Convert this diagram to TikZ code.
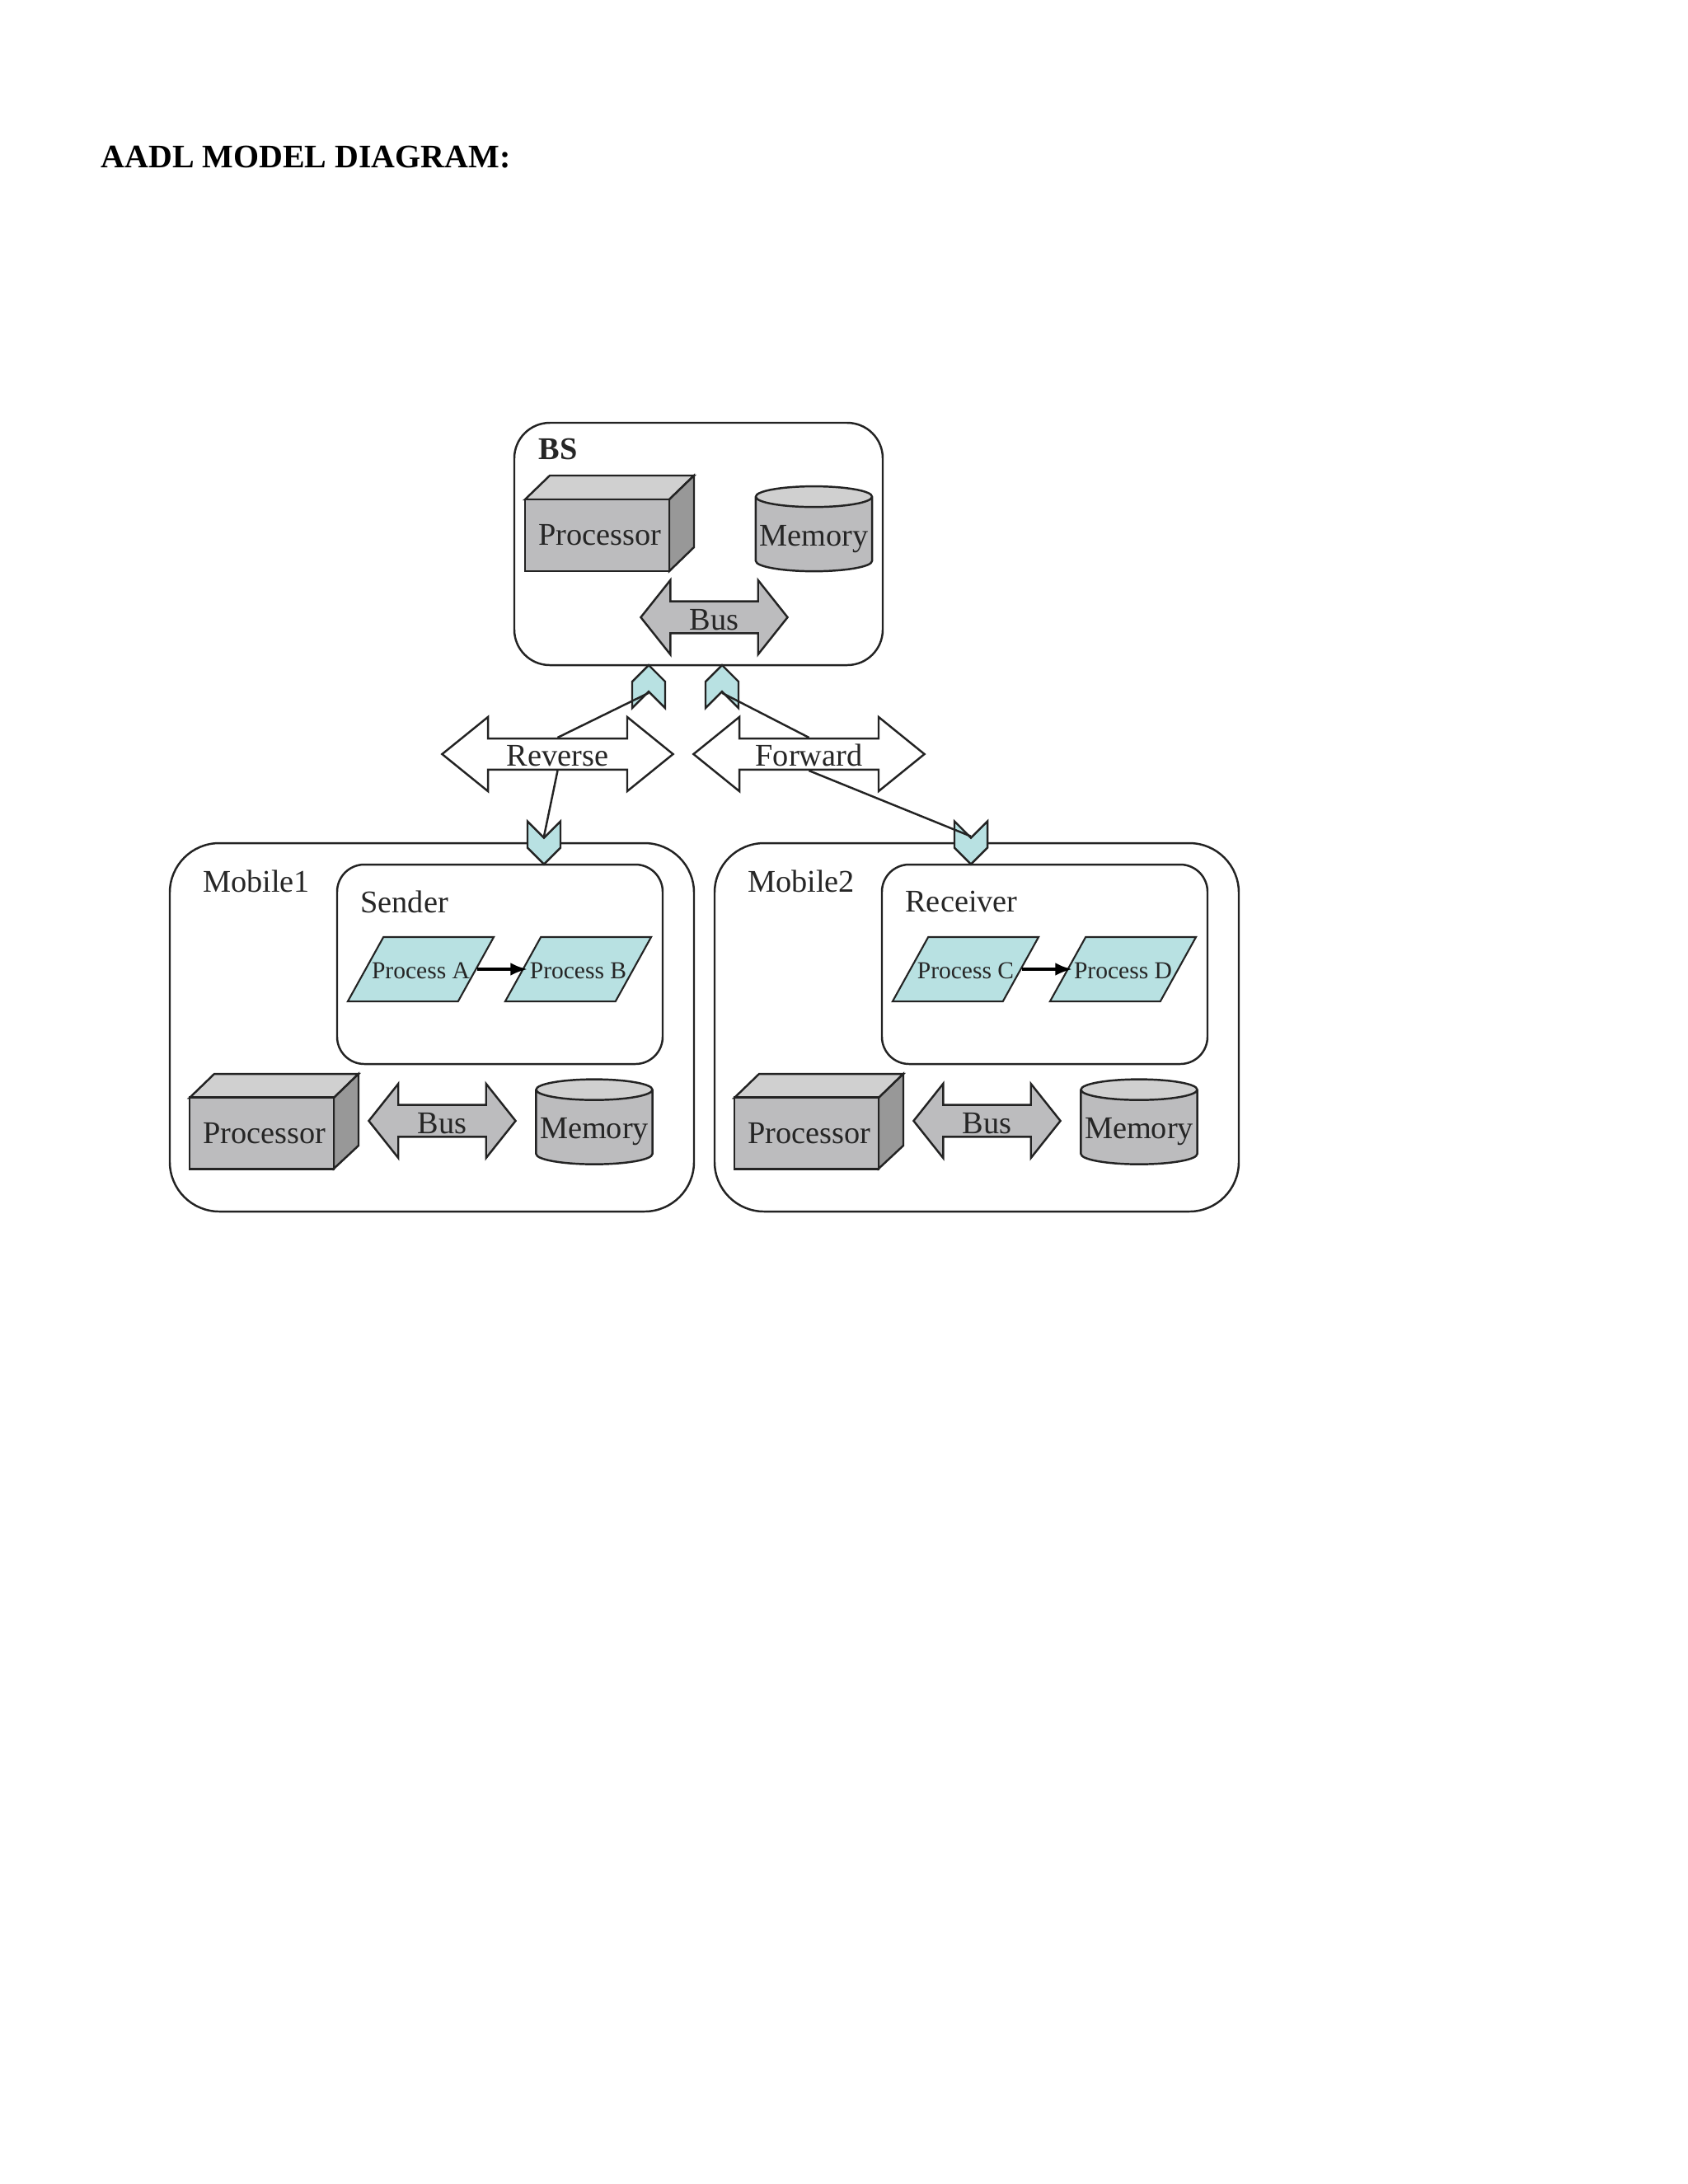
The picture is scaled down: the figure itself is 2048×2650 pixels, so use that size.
\documentclass[tikz,border=0pt]{standalone}
\usepackage{fontspec}
\setmainfont{Liberation Serif}
\usetikzlibrary{arrows.meta,positioning,calc,shapes.geometric,shapes.arrows,shapes.symbols}
\definecolor{boxline}{RGB}{35,35,35}
\definecolor{hwface}{RGB}{188,188,190}
\definecolor{hwtop}{RGB}{208,208,208}
\definecolor{hwside}{RGB}{152,152,152}
\definecolor{swfill}{RGB}{184,225,226}
\tikzset{
  every node/.style={font=\fontsize{10.9}{12}\selectfont,text=black!85},
  outerbox/.style={draw=boxline,line width=0.7pt,rounded corners=0.6cm,fill=white},
  innerbox/.style={draw=boxline,line width=0.7pt,rounded corners=0.33cm,fill=white},
  cpuface/.style={draw=boxline,line width=0.7pt,fill=hwface,minimum width=1.75cm,minimum height=0.87cm,inner sep=0pt},
  cputop/.style={draw=boxline,line width=0.7pt,fill=hwtop},
  cpuside/.style={draw=boxline,line width=0.7pt,fill=hwside},
  membox/.style={cylinder,shape border rotate=90,draw=boxline,line width=0.7pt,cylinder uses custom fill,
    cylinder body fill=hwface,cylinder end fill=hwtop,minimum width=1.41cm,minimum height=1.03cm,aspect=0.19,inner sep=0pt,
    text height=7.8pt,text depth=0pt},
  busarrow/.style={double arrow,draw=boxline,line width=0.7pt,fill=hwface,minimum width=0.9cm,minimum height=1.78cm,
    double arrow head extend=0.225cm,double arrow tip angle=103,inner sep=0pt,text height=9pt,text depth=0pt},
  linkarrow/.style={double arrow,draw=boxline,line width=0.7pt,fill=white,minimum width=0.9cm,minimum height=2.8cm,
    double arrow head extend=0.225cm,double arrow tip angle=78,inner sep=0pt,text height=8.5pt,text depth=0pt},
  procbox/.style={trapezium,trapezium left angle=61,trapezium right angle=119,trapezium stretches body=true,draw=boxline,
    line width=0.6pt,fill=swfill,minimum width=1.77cm,text height=6.8pt,text depth=0pt,inner xsep=0pt,inner ysep=7.7pt,
    font=\fontsize{8.4}{10}\selectfont},
  portbox/.style={signal,signal pointer angle=90,draw=boxline,line width=0.7pt,fill=swfill,minimum width=0.4cm,minimum height=0.12cm,inner sep=0pt},
  linkline/.style={draw=boxline,line width=0.7pt},
}

\begin{document}
\begin{tikzpicture}[x=0.01cm,y=-0.01cm]
  \useasboundingbox[fill=white] (0,0) rectangle (2048,2650);
  \node[anchor=west,inner sep=0pt,font=\fontsize{11.35}{13}\selectfont\bfseries,text=black] (title) at (122,191) {AADL MODEL DIAGRAM:};

  % base station
  \draw[outerbox,rounded corners=0.43cm] (624,513) rectangle (1071,807);
  \node[font=\fontsize{10.9}{12}\selectfont\bfseries] (bslabel) at (677,545) {BS};
  \draw[cputop] (637,606) -- ++(30,-29) -- ++(175,0) -- (812,606) -- cycle;
  \draw[cpuside] (812,606) -- ++(30,-29) -- ++(0,87) -- (812,693) -- cycle;
  \node[cpuface] (bsproc) at (724.5,649.5) {\hspace*{2pt}Processor};
  \node[membox] (bsmem) at (987.5,648.5) {Memory};
  \node[busarrow] (bsbus) at (866.5,749) {Bus};

  % the two mobiles
  \foreach \i/\dx/\mname/\sname/\pa/\pb in {1/0/Mobile1/Sender/Process A/Process B,2/661/Mobile2/Receiver/Process C/Process D} {
    \begin{scope}[shift={(\dx,0)}]
      \draw[outerbox] (206,1023) rectangle (842,1470);
      \node (mlabel\i) at (311,1069) {\mname};
      \draw[innerbox] (409,1049) rectangle (804,1291);
      \node[anchor=west] (slabel\i) at (425,1094) {\sname};
      \node[procbox] (pa\i) at (510.5,1176) {\makebox[0pt]{\pa}};
      \node[procbox] (pb\i) at (701.5,1176) {\makebox[0pt]{\pb}};
      \draw[-{Latex[length=6pt]},line width=1.3pt,black,shorten >=-2pt] (pa\i.east) -- (pb\i.west);
      \draw[cputop] (230,1332) -- ++(30,-29) -- ++(175,0) -- (405,1332) -- cycle;
      \draw[cpuside] (405,1332) -- ++(30,-29) -- ++(0,87) -- (405,1418) -- cycle;
      \node[cpuface] (mproc\i) at (317.5,1375) {\hspace*{2pt}Processor};
      \node[busarrow] (mbus\i) at (536.5,1360) {Bus};
      \node[membox] (mmem\i) at (721,1368) {Memory};
    \end{scope}
  }

  % ports and connections
  \node[portbox,signal to=north,signal from=south] (bsportA) at (787,833) {};
  \node[portbox,signal to=north,signal from=south] (bsportB) at (876,833) {};
  \node[portbox,signal to=south,signal from=north] (mportA) at (660,1022.5) {};
  \node[portbox,signal to=south,signal from=north] (mportB) at (1178,1022.5) {};
  \node[linkarrow] (reverse) at (676.5,915) {Reverse};
  \node[linkarrow] (forward) at (981.5,915) {Forward};
  \draw[linkline] (bsportA.south) -- (reverse.north);
  \draw[linkline] (reverse.south) -- (mportA.north);
  \draw[linkline] (bsportB.south) -- (forward.north);
  \draw[linkline] (forward.south) -- (mportB.north);
\end{tikzpicture}
\end{document}
